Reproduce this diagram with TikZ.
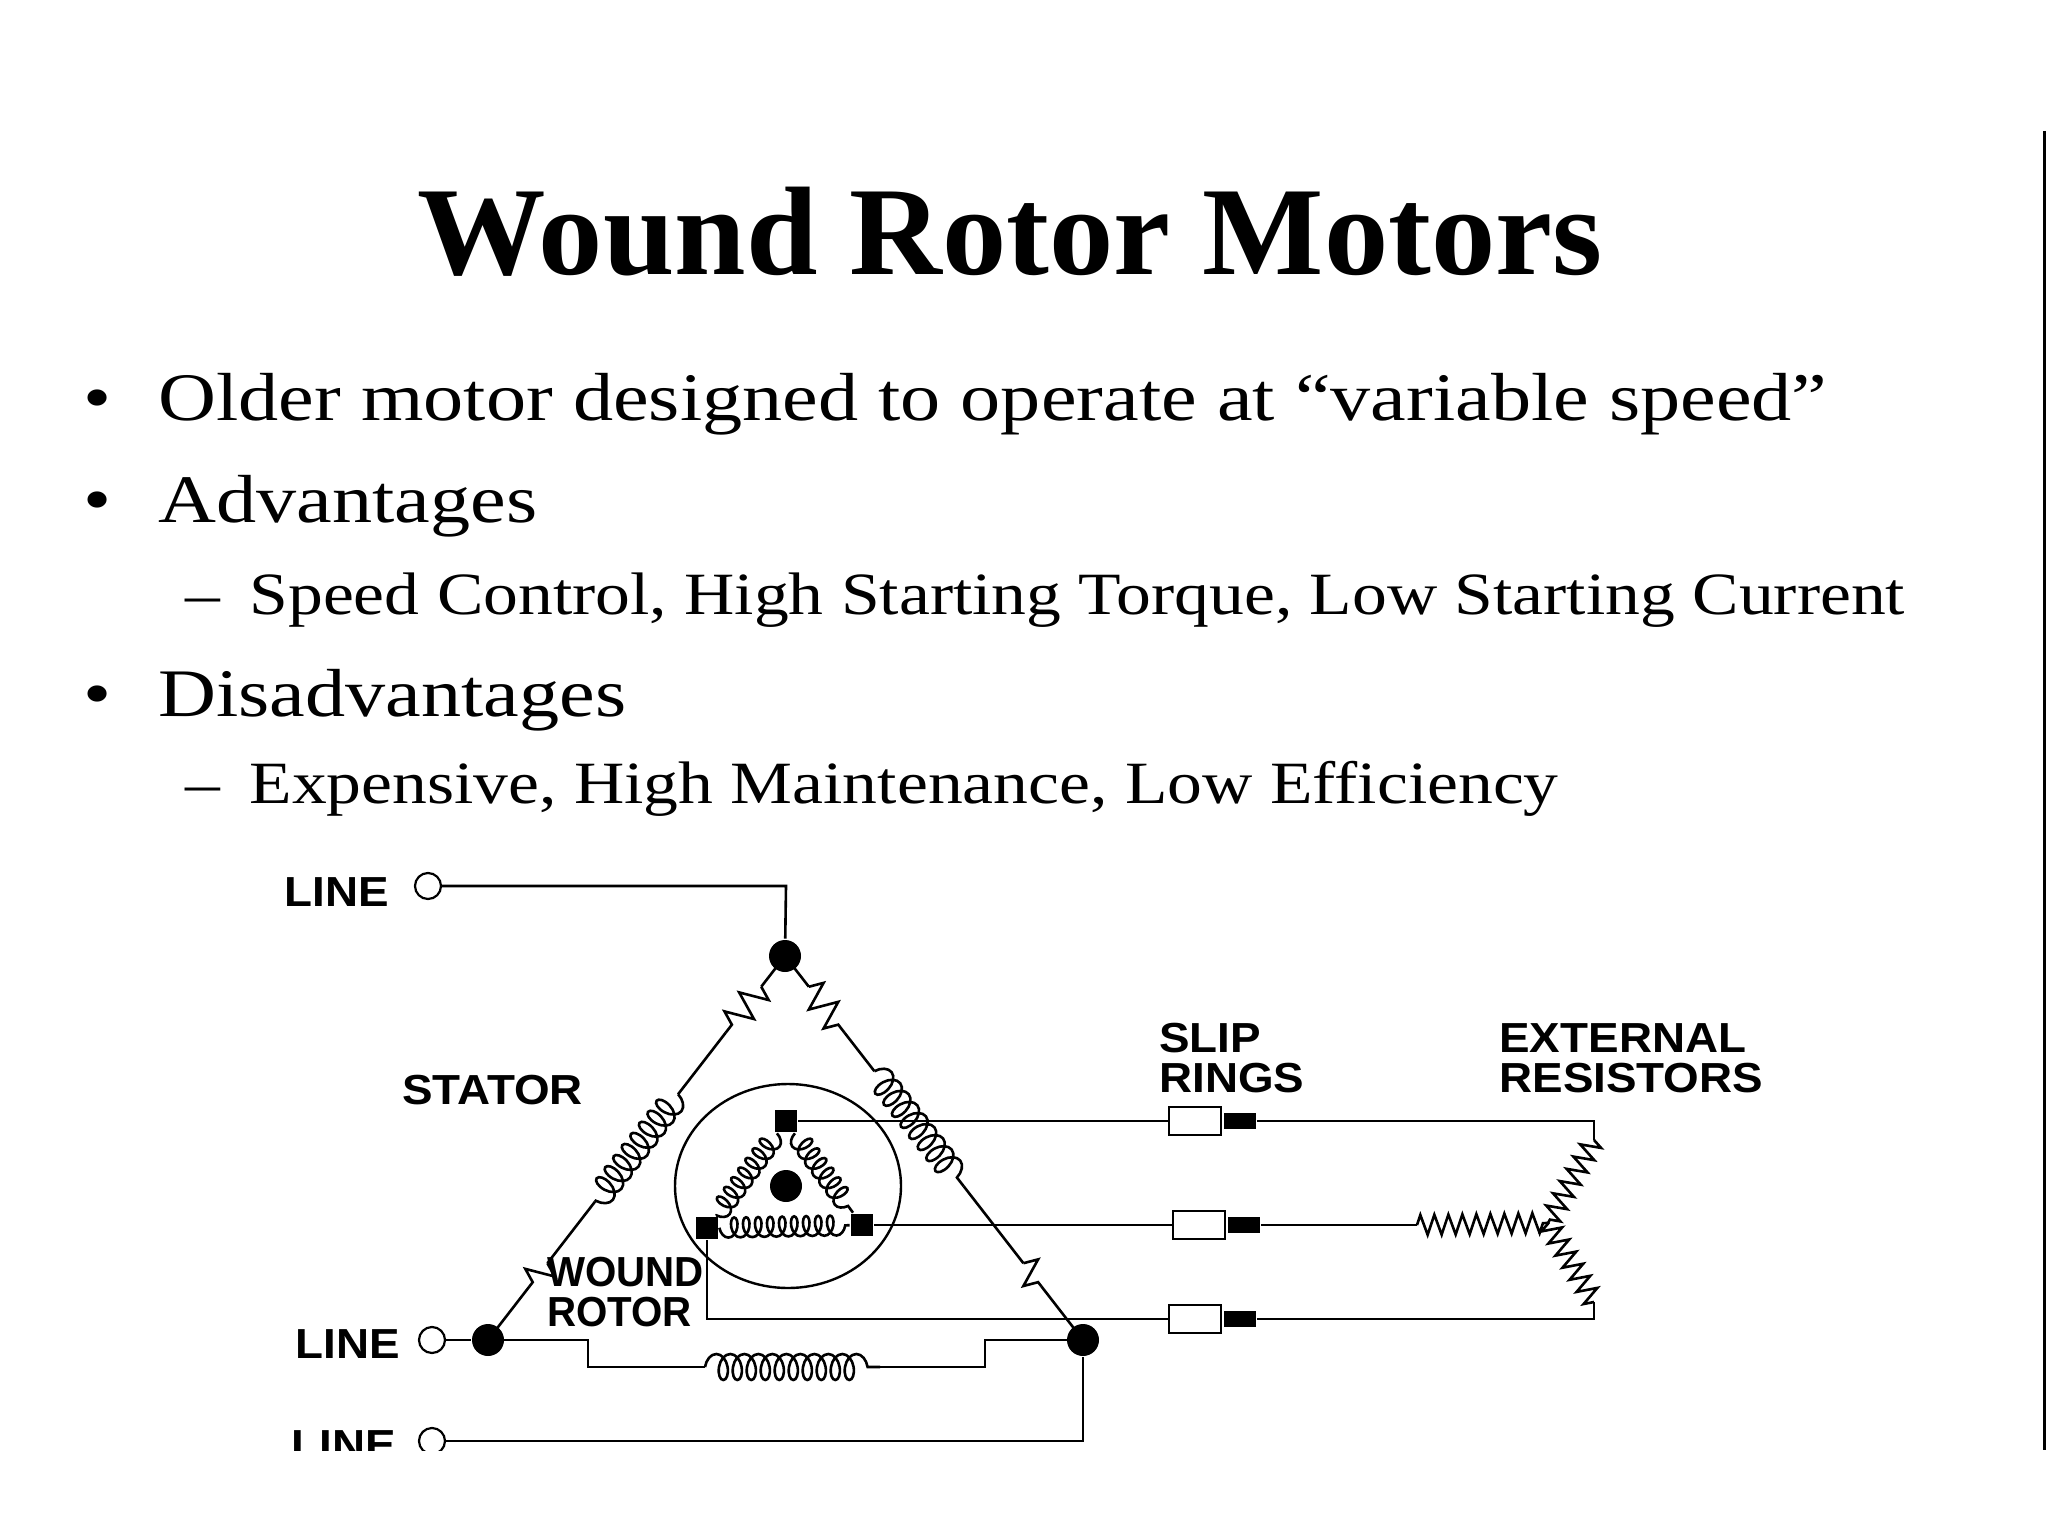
\documentclass[tikz,border=0pt]{standalone}
\usepackage{fontspec}
\setmainfont{Liberation Serif}
\newfontfamily\lblfont{Liberation Sans}
\usetikzlibrary{decorations.pathmorphing,calc,shapes.geometric}
\begin{document}
\begin{tikzpicture}[x=1pt,y=-1pt,line width=2.6pt,
  lbl/.style={font=\lblfont\bfseries\fontsize{42}{40}\selectfont,xscale=1.09,align=left,anchor=west,inner sep=0pt},
  bul/.style={font=\fontsize{68}{70}\selectfont,xscale=1.18,anchor=base west,inner sep=0pt},
  sub/.style={font=\fontsize{60}{62}\selectfont,xscale=1.16,anchor=base west,inner sep=0pt},
  term/.style={circle,draw,fill=white,line width=2.2pt,minimum size=26pt,inner sep=0pt},
  jdot/.style={circle,fill=black,minimum size=32pt,inner sep=0pt},
  sq/.style={rectangle,fill=black,minimum size=22pt,inner sep=0pt},
  coilst/.style={decorate,decoration={coil,aspect=0.6,segment length=14pt,amplitude=13pt}},
  zz/.style={decorate,decoration={zigzag,segment length=24pt,amplitude=14pt}},
  rz/.style={decorate,decoration={zigzag,segment length=14pt,amplitude=10pt}},
  ring/.style={rectangle,draw,fill=white,line width=2.4pt,minimum width=52pt,minimum height=28pt,inner sep=0pt},
  brush/.style={rectangle,fill=black,minimum width=32pt,minimum height=16pt,inner sep=0pt}]
\useasboundingbox (0,0) rectangle (2048,1536);
\begin{scope}
\clip (0,0) rectangle (2048,1450);
% slide border
\draw[line width=3pt] (2044,131) -- (2044,1450);
% title and bullets
\node[font=\bfseries\fontsize{126}{130}\selectfont,xscale=1.02,inner sep=0pt] (title) at (1010,232) {Wound Rotor Motors};
\node[bul] (b1) at (82,420) {•};
\node[bul] (t1) at (157,420) {Older motor designed to operate at “variable speed”};
\node[bul] (b2) at (82,522) {•};
\node[bul] (t2) at (157,522) {Advantages};
\node[sub] (d1) at (184,614) {–};
\node[sub] (s1) at (248,614) {Speed Control, High Starting Torque, Low Starting Current};
\node[bul] (b3) at (82,716) {•};
\node[bul] (t3) at (157,716) {Disadvantages};
\node[sub] (d2) at (184,803) {–};
\node[sub] (s2) at (248,803) {Expensive, High Maintenance, Low Efficiency};
% line terminals
\node[lbl] (lineA) at (283,892) {LINE};
\node[term] (LA) at (428,886) {};
\node[lbl] (lineB) at (294,1344) {LINE};
\node[term] (LB) at (432,1340) {};
\node[lbl] (lineC) at (290,1445) {LINE};
\node[term] (LC) at (432,1441) {};
% triangle corners
\node[jdot] (T) at (785,956) {};
\node[jdot] (BL) at (488,1340) {};
\node[jdot] (BR) at (1083,1340) {};
\draw (LA) -- (786,886) -- (T);
\draw (LB) -- (BL);
\draw (LC) -- (1083,1441) -- (BR);
% left edge
\draw (T.center) -- ($(T)!0.08!(BL)$);
\draw[zz] ($(T)!0.08!(BL)$) -- ($(T)!0.2!(BL)$);
\draw ($(T)!0.2!(BL)$) -- ($(T)!0.36!(BL)$);
\draw[coilst] ($(T)!0.36!(BL)$) -- ($(T)!0.64!(BL)$);
\draw ($(T)!0.64!(BL)$) -- ($(T)!0.8!(BL)$);
\draw[zz] ($(T)!0.8!(BL)$) -- ($(T)!0.86!(BL)$);
\draw ($(T)!0.86!(BL)$) -- (BL.center);
% right edge
\draw (T.center) -- ($(T)!0.08!(BR)$);
\draw[zz] ($(T)!0.08!(BR)$) -- ($(T)!0.2!(BR)$);
\draw ($(T)!0.2!(BR)$) -- ($(T)!0.3!(BR)$);
\draw[coilst] ($(T)!0.3!(BR)$) -- ($(T)!0.6!(BR)$);
\draw ($(T)!0.6!(BR)$) -- ($(T)!0.8!(BR)$);
\draw[zz] ($(T)!0.8!(BR)$) -- ($(T)!0.86!(BR)$);
\draw ($(T)!0.86!(BR)$) -- (BR.center);
% bottom edge
\draw (BL.center) -- (588,1340) -- (588,1367) -- (705,1367);
\draw[coilst] (705,1367) -- (880,1367);
\draw (880,1367) -- (985,1367) -- (985,1340) -- (BR.center);
% rotor
\node[draw,ellipse,minimum width=226pt,minimum height=204pt,line width=2.4pt,inner sep=0pt] (rot) at (788,1186) {};
\node[circle,fill=black,minimum size=32pt,inner sep=0pt] (shaft) at (786,1186) {};
\node[sq] (RT) at (786,1121) {};
\node[sq] (RL) at (707,1228) {};
\node[sq] (RR) at (862,1225) {};
\draw[decorate,decoration={coil,aspect=0.6,segment length=12pt,amplitude=10pt}] (RT) -- (RL);
\draw[decorate,decoration={coil,aspect=0.6,segment length=12pt,amplitude=10pt,mirror}] (RT) -- (RR);
\draw[decorate,decoration={coil,aspect=0.6,segment length=12pt,amplitude=10pt,mirror}] (RL) -- (RR);
% slip rings
\node[ring] (S1) at (1195,1121) {};
\node[brush,anchor=west] (B1) at (S1.east) {};
\node[ring] (S2) at (1199,1225) {};
\node[brush,anchor=west] (B2) at (S2.east) {};
\node[ring] (S3) at (1195,1319) {};
\node[brush,anchor=west] (B3) at (S3.east) {};
\draw (RT) -- (S1);
\draw (RR) -- (S2);
\draw (RL) -- (707,1319) -- (S3);
% resistors
\coordinate (Y) at (1548,1223);
\draw (B1) -- (1594,1121) -- (1594,1140);
\draw[rz] (1594,1140) -- (Y);
\draw (B2) -- (1417,1225);
\draw[rz] (1417,1225) -- (Y);
\draw (B3) -- (1594,1319) -- (1594,1302);
\draw[rz] (1594,1302) -- (Y);
% labels
\node[lbl] (stator) at (401,1090) {STATOR};
\node[lbl,xscale=0.88] (wound) at (546,1292) {WOUND\\ROTOR};
\node[lbl] (slip) at (1158,1058) {SLIP\\RINGS};
\node[lbl] (ext) at (1498,1058) {EXTERNAL\\RESISTORS};
\end{scope}
\end{tikzpicture}
\end{document}
